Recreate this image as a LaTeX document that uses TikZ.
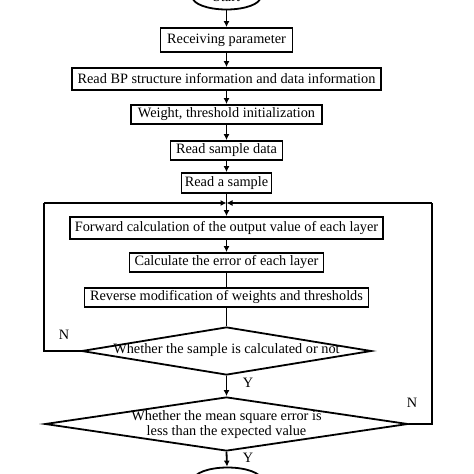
\documentclass[tikz,border=0pt]{standalone}
\usepackage{fontspec}
\setmainfont{Liberation Serif}
\usetikzlibrary{arrows.meta,shapes.geometric}
\begin{document}
\begin{tikzpicture}[x=1pt,y=-1pt,
  every node/.style={font=\fontsize{14.3}{16}\selectfont},
  box/.style={draw,line width=1.8pt,rectangle,inner sep=0pt,anchor=center},
  dia/.style={draw,line width=1.8pt,diamond,inner sep=0pt},
  term/.style={draw,line width=1.8pt,ellipse,inner sep=0pt,minimum width=68pt,minimum height=25pt},
  con/.style={line width=1.8pt},
  arr/.style={line width=1.8pt,-{Latex[length=6pt,width=6pt]}},
  lbl/.style={inner sep=0pt}]
\useasboundingbox (0,0) rectangle (474,474);
\fill[white] (0,0) rectangle (474,474);
\node[term] (st) at (226.5,-3) {Start};
\node[box,minimum width=132pt,minimum height=24pt] (rp) at (226.5,40) {Receiving parameter};
\node[box,minimum width=309pt,minimum height=22pt] (bp) at (226.5,79) {Read BP structure information and data information};
\node[box,minimum width=191pt,minimum height=19pt] (wt) at (226.5,114.5) {Weight, threshold initialization};
\node[box,minimum width=112pt,minimum height=19pt] (sd) at (226.5,150.5) {Read sample data};
\node[box,minimum width=90pt,minimum height=20pt] (rs) at (226.5,183) {Read a sample};
\coordinate (j) at (226.5,203);
\coordinate (jl) at (44,203);
\coordinate (jr) at (432,203);
\node[box,minimum width=313pt,minimum height=22pt] (fw) at (226.5,228) {Forward calculation of the output value of each layer};
\node[box,minimum width=194pt,minimum height=19pt] (ce) at (226.5,262.5) {Calculate the error of each layer};
\node[box,minimum width=284pt,minimum height=19pt] (rv) at (226.5,297.5) {Reverse modification of weights and thresholds};
\node[dia,minimum width=290pt,minimum height=48pt] (d1) at (226.5,351) {};
\node[lbl] (d1t) at (226.5,350) {Whether the sample is calculated or not};
\node[dia,minimum width=363pt,minimum height=54pt] (d2) at (226.5,424) {};
\node[lbl,align=center] (d2t) at (226.5,425) {Whether the mean square error is\\[-1pt]less than the expected value};
\node[term] (en) at (227.5,480) {};
\coordinate (l1) at (44,351);
\coordinate (r2) at (432,424);
\draw[arr] (st) -- (rp);
\draw[arr] (rp) -- (bp);
\draw[arr] (bp) -- (wt);
\draw[arr] (wt) -- (sd);
\draw[arr] (sd) -- (rs);
\draw[con] (rs) -- (j);
\draw[arr] (j) -- (fw);
\draw[arr] (fw) -- (ce);
\draw[con] (ce) -- (rv);
\draw[con] (rv) -- (d1.north);
\draw[arr] (d1.south) -- (d2.north);
\draw[arr] (d2.south) -- (en);
\draw[con] (d1.west) -- (l1) -- (jl);
\draw[arr] (jl) -- (j);
\draw[con] (d2.east) -- (r2) -- (jr);
\draw[arr] (jr) -- (j);
\node[lbl] (n1) at (64,335) {N};
\node[lbl] (y1) at (248,383) {Y};
\node[lbl] (n2) at (412,403) {N};
\node[lbl] (y2) at (248,458) {Y};
\end{tikzpicture}
\end{document}
